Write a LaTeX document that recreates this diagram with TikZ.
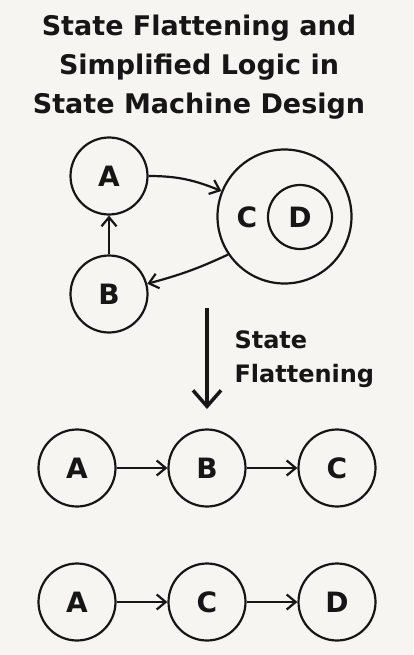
\documentclass[tikz,border=0pt]{standalone}
\usepackage{fontspec}
\setmainfont{DejaVu Sans}
\usepackage{tikz}
\usetikzlibrary{arrows.meta}
\definecolor{paper}{RGB}{247,245,242}
\definecolor{ink}{RGB}{22,22,22}

\begin{document}
\begin{tikzpicture}[x=1pt,y=1pt,
		state/.style={circle,draw=ink,line width=2.2pt,inner sep=0pt,minimum size=77pt,text=ink,font=\fontsize{28}{28}\selectfont\bfseries},
		tip/.style={draw=ink,line width=2.2pt,-{Straight Barb[length=9pt,width=15pt]}}]
					% Background and frame
					\fill[paper] (0,0) rectangle (413,-655);
					\useasboundingbox (0,0) rectangle (413,-655);
					% Title lines
					\foreach \t/\y [count=\i] in {State Flattening and/36,Simplified Logic in/75,State Machine Design/114}
						\node[anchor=base,text=ink,font=\fontsize{27}{27}\selectfont\bfseries] (title\i) at (199,-\y) {\t};
					% Nested machine
					\node[state] (A) at (109,-176) {A};
					\node[state] (B) at (109,-294) {B};
					\node[state,minimum size=134pt] (C) at (284.5,-216.5) {};
					\node[state,minimum size=64pt] (D) at (300,-217) {D};
					\node[text=ink,font=\fontsize{28}{28}\selectfont\bfseries] (Cname) at (247,-217) {C};
					\draw[tip] (A) to[out=0,in=158] (C);
					\draw[tip] (C.214) to[out=205,in=15] (B);
					\draw[tip] (B) -- (A);
					% Flattening step
					\coordinate (flatTop) at (207,-308);
					\coordinate (flatEnd) at (207,-409);
					\draw[draw=ink,line width=3.5pt,-{Straight Barb[length=16pt,width=28pt]}] (flatTop) -- (flatEnd);
					\node[anchor=base west,text=ink,font=\fontsize{24}{24}\selectfont\bfseries] (flat1) at (231,-348) {State};
					\node[anchor=base west,text=ink,font=\fontsize{24}{24}\selectfont\bfseries] (flat2) at (231,-382) {Flattening};
					% Flat machines
					\foreach \n/\x in {A/77,B/207,C/337} \node[state] (up\n) at (\x,-468) {\n};
					\foreach \n/\x in {A/77,C/207,D/337} \node[state] (low\n) at (\x,-602) {\n};
					\draw[tip] (upA) -- (upB);
					\draw[tip] (upB) -- (upC);
					\draw[tip] (lowA) -- (lowC);
					\draw[tip] (lowC) -- (lowD);
				\end{tikzpicture}
\end{document}
